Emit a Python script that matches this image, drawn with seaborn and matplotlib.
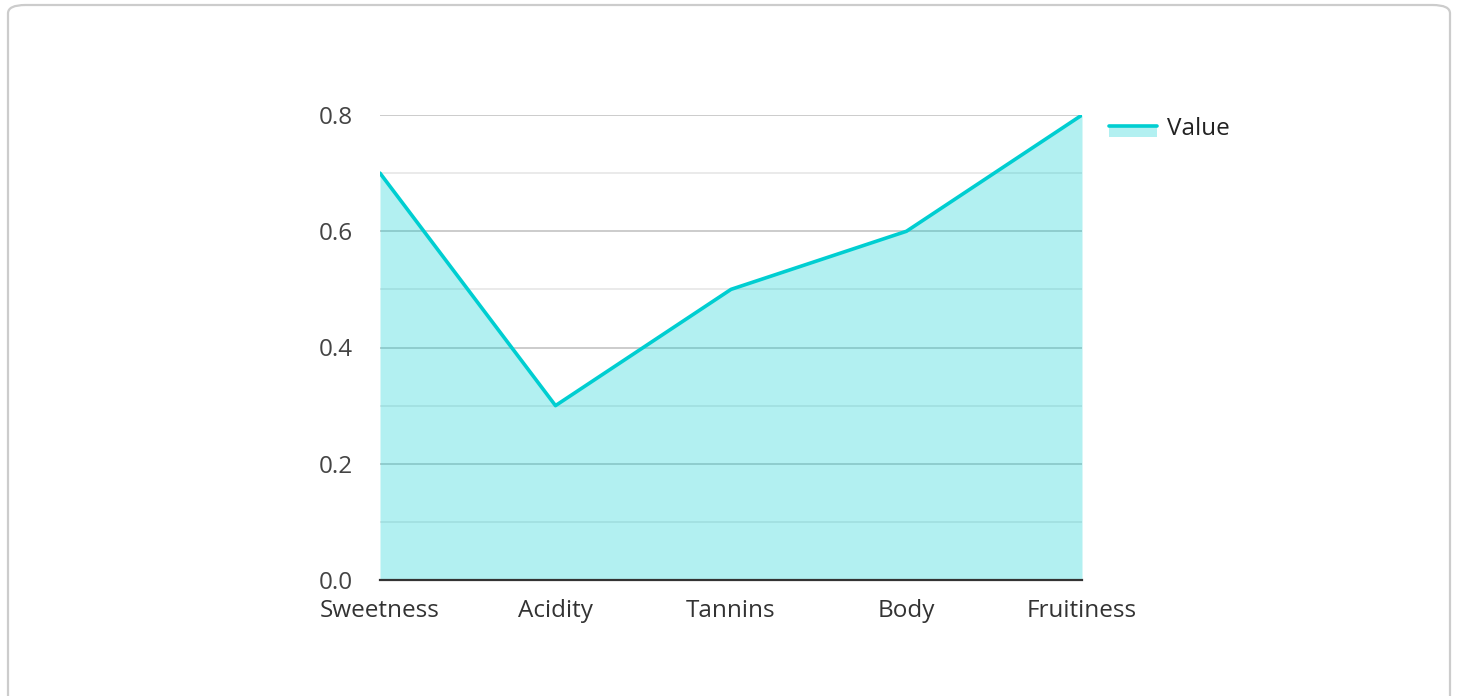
import matplotlib
matplotlib.use("Agg")
import matplotlib.pyplot as plt
import seaborn as sns
import pandas as pd
from matplotlib.patches import FancyBboxPatch, Patch
from matplotlib.lines import Line2D
from matplotlib.legend_handler import HandlerBase

categories = ["Sweetness", "Acidity", "Tannins", "Body", "Fruitiness"]
values = [0.7, 0.3, 0.5, 0.6, 0.8]
y_ticks = [0.0, 0.2, 0.4, 0.6, 0.8]
y_minor = [0.1, 0.3, 0.5, 0.7]
series_name = "Value"

sns.set_theme(style="white")
plt.rcParams["font.family"] = ["Open Sans", "DejaVu Sans"]

W, H = 1458, 696
FS = 17.5
fig = plt.figure(figsize=(W / 100, H / 100), dpi=100)
ax = fig.add_axes([380 / W, 1 - 580 / H, (1082 - 380) / W, (580 - 115) / H])

df = pd.DataFrame({"cat": categories, "val": values})
x = list(range(len(categories)))
color = "#00CED1"

for yv in y_minor:
    ax.axhline(yv, color="#e6e6e6", lw=1.2, zorder=0)
for yv in y_ticks[1:]:
    ax.axhline(yv, color="#cccccc", lw=1.4, zorder=0)

ax.fill_between(x, values, 0, color=color, alpha=0.3, lw=0, zorder=1)
sns.lineplot(x=x, y=df["val"], ax=ax, color=color, lw=2.6, zorder=3)

ax.set_xlim(0, len(categories) - 1)
ax.set_ylim(0, 0.8)
ax.set_xticks(x)
ax.set_xticklabels(categories)
ax.set_yticks(y_ticks)
ax.set_yticklabels([f"{v:.1f}" for v in y_ticks])
ax.tick_params(axis="x", length=0, pad=13.5, labelsize=FS, labelcolor="#333333")
ax.tick_params(axis="y", length=0, pad=19.5, labelsize=FS, labelcolor="#444444")
ax.set_xlabel("")
ax.set_ylabel("")
for s in ["top", "right", "left"]:
    ax.spines[s].set_visible(False)
ax.spines["bottom"].set_color("#333333")
ax.spines["bottom"].set_linewidth(1.6)
ax.spines["bottom"].set_zorder(4)


class AreaHandler(HandlerBase):
    def create_artists(self, legend, orig, xdescent, ydescent, width, height, fontsize, trans):
        r = plt.Rectangle((-xdescent, -ydescent - height * 0.1), width, height * 0.6,
                          facecolor=color, alpha=0.3, lw=0, transform=trans)
        l = Line2D([-xdescent, -xdescent + width], [-ydescent + height * 0.5] * 2,
                   color=color, lw=2.6, transform=trans)
        return [r, l]


handle = Patch(label=series_name)
leg = fig.legend(handles=[handle], labels=[series_name], handler_map={Patch: AreaHandler()},
                 loc="upper left", bbox_to_anchor=(1104 / W, 1 - 112 / H),
                 frameon=False, fontsize=FS, handlelength=2.0, handletextpad=0.38,
                 borderaxespad=0, borderpad=0.2)
for t in leg.get_texts():
    t.set_color("#222222")

border = FancyBboxPatch((8 / W, -20 / H), (1450 - 8) / W, (H - 5 + 20) / H,
                        boxstyle="round,pad=0,rounding_size=0.012",
                        transform=fig.transFigure, facecolor="none",
                        edgecolor="#cccccc", lw=1.6, zorder=-1)
fig.patches.append(border)

fig.savefig("out.png", dpi=100)
